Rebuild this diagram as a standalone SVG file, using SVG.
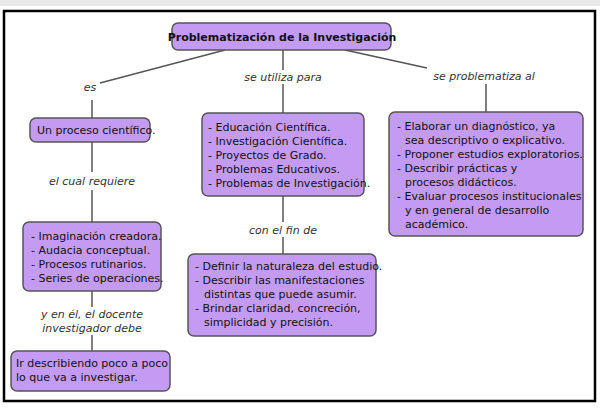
<svg xmlns="http://www.w3.org/2000/svg" width="600" height="409" viewBox="0 0 600 409">
<style>
.b{fill:#c49bf2;stroke:#555;stroke-width:1.5}
.t{font-family:"DejaVu Sans",sans-serif;font-size:11px;fill:#111}
.l{font-family:"DejaVu Sans",sans-serif;font-size:11px;font-style:italic;fill:#333;text-anchor:middle}
#c line{stroke:#555;stroke-width:1.5}
</style>
<rect x="0" y="0" width="600" height="409" fill="#fff"/>
<rect x="0" y="0" width="600" height="6" fill="#e8e8e8"/>
<rect x="4" y="11" width="591" height="390" fill="#fff" stroke="#000" stroke-width="2.5"/>
<g id="c">
<line x1="225" y1="50" x2="100" y2="83"/>
<line x1="92" y1="100" x2="92" y2="118"/>
<line x1="283" y1="50" x2="283" y2="70"/>
<line x1="283" y1="84" x2="283" y2="114"/>
<line x1="345" y1="50" x2="427" y2="68"/>
<line x1="486" y1="84" x2="486" y2="112"/>
<line x1="92" y1="142" x2="92" y2="172"/>
<line x1="92" y1="190" x2="92" y2="222"/>
<line x1="92" y1="291" x2="92" y2="307"/>
<line x1="92" y1="335" x2="92" y2="351"/>
<line x1="283" y1="196" x2="283" y2="222"/>
<line x1="283" y1="237" x2="283" y2="254"/>
<text class="l" x="90" y="91">es</text>
<text class="l" x="283" y="81">se utiliza para</text>
<text class="l" x="484" y="80">se problematiza al</text>
<text class="l" x="92" y="185">el cual requiere</text>
<text class="l" x="92" y="318">y en él, el docente</text>
<text class="l" x="92" y="332">investigador debe</text>
<text class="l" x="283" y="234">con el fin de</text>
</g>
<g id="n0"><rect class="b" x="172" y="23" width="219" height="27" rx="6"/><text class="t" x="282" y="41" text-anchor="middle" font-weight="bold">Problematización de la Investigación</text></g>
<g id="n1"><rect class="b" x="30" y="118" width="120" height="24" rx="6"/><text class="t" x="37" y="134">Un proceso científico.</text></g>
<g id="n2"><rect class="b" x="23" y="222" width="138" height="69" rx="6"/><text class="t" x="31" y="240">- Imaginación creadora.<tspan x="31" dy="14">- Audacia conceptual.</tspan><tspan x="31" dy="14">- Procesos rutinarios.</tspan><tspan x="31" dy="14">- Series de operaciones.</tspan></text></g>
<g id="n3"><rect class="b" x="11" y="351" width="159" height="40" rx="6"/><text class="t" x="16" y="367">Ir describiendo poco a poco<tspan x="16" dy="14">lo que va a investigar.</tspan></text></g>
<g id="n4"><rect class="b" x="202" y="113" width="162" height="83" rx="6"/><text class="t" x="208" y="131">- Educación Científica.<tspan x="208" dy="14">- Investigación Científica.</tspan><tspan x="208" dy="14">- Proyectos de Grado.</tspan><tspan x="208" dy="14">- Problemas Educativos.</tspan><tspan x="208" dy="14">- Problemas de Investigación.</tspan></text></g>
<g id="n5"><rect class="b" x="188" y="254" width="188" height="82" rx="6"/><text class="t" x="195" y="270">- Definir la naturaleza del estudio.<tspan x="195" dy="14">- Describir las manifestaciones</tspan><tspan x="204" dy="14">distintas que puede asumir.</tspan><tspan x="195" dy="14">- Brindar claridad, concreción,</tspan><tspan x="204" dy="14">simplicidad y precisión.</tspan></text></g>
<g id="n6"><rect class="b" x="389" y="112" width="194" height="124" rx="6"/><text class="t" x="397" y="130">- Elaborar un diagnóstico, ya<tspan x="405" dy="14">sea descriptivo o explicativo.</tspan><tspan x="397" dy="14">- Proponer estudios exploratorios.</tspan><tspan x="397" dy="14">- Describir prácticas y</tspan><tspan x="405" dy="14">procesos didácticos.</tspan><tspan x="397" dy="14">- Evaluar procesos institucionales</tspan><tspan x="405" dy="14">y en general de desarrollo</tspan><tspan x="405" dy="14">académico.</tspan></text></g>
</svg>
